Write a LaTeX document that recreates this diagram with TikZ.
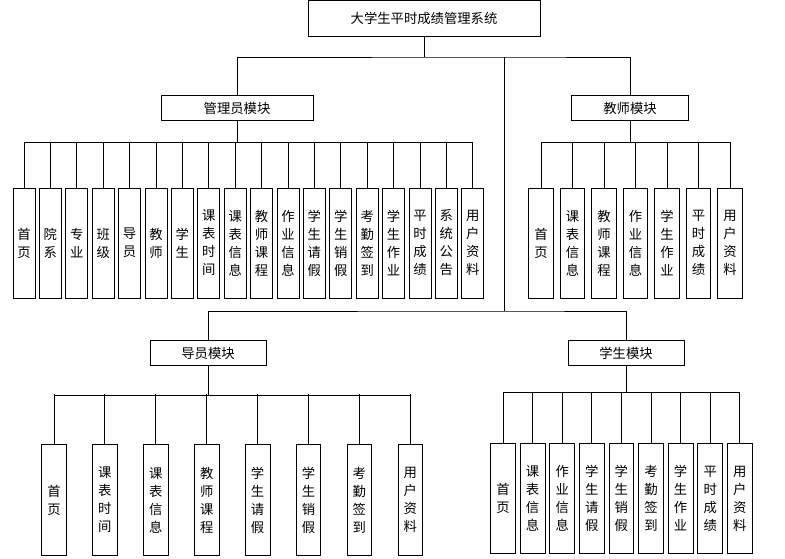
\documentclass[tikz,border=0pt]{standalone}
\usepackage{fontspec}
\newfontfamily\cjk{Noto Sans CJK SC}
\begin{document}
\begin{tikzpicture}[x=0.75pt,y=-0.75pt,
  box/.style={draw,line width=0.65pt,inner sep=0pt,font=\cjk\fontsize{10}{12}\selectfont},
  vbox/.style={draw,line width=0.65pt,inner sep=0pt,minimum width=16.5pt,minimum height=82.5pt,align=center,font=\cjk\fontsize{10}{13.5}\selectfont},
  ln/.style={line width=0.65pt}]
\useasboundingbox (0,0) rectangle (785,558);
\node[box,minimum width=174pt,minimum height=27pt] (root) at (424,18) {大学生平时成绩管理系统};
\node[box,minimum width=114pt,minimum height=19pt] (adm) at (237,108) {管理员模块};
\node[box,minimum width=88pt,minimum height=19pt] (tea) at (630,108) {教师模块};
\node[box,minimum width=87pt,minimum height=19pt] (gui) at (208,353) {导员模块};
\node[box,minimum width=87pt,minimum height=19pt] (stu) at (626,353) {学生模块};
\coordinate (j1) at (504,57);
\coordinate (j2) at (504,311);
\draw[ln] (root.south) -- (424,57);
\draw[ln] (adm.north) |- (j1) -| (tea.north);
\draw[ln] (j1) -- (j2);
\draw[ln] (gui.north) |- (j2) -| (stu.north);
% admin
\foreach[count=\i] \t in {首\\页,院\\系,专\\业,班\\级,导\\员,教\\师,学\\生,课\\表\\时\\间,课\\表\\信\\息,教\\师\\课\\程,作\\业\\信\\息,学\\生\\请\\假,学\\生\\销\\假,考\\勤\\签\\到,学\\生\\作\\业,平\\时\\成\\绩,系\\统\\公\\告,用\\户\\资\\料}{
  \node[vbox,minimum height=82.5pt] (a\i) at ({24+(\i-1)*26.4},243) {\t};
  \draw[ln] (a\i.north) -- ++(0,-46);
}
\draw[ln] (adm.south) -- (237,142);
\draw[ln] (24,142) -- (473,142);
% teacher
\foreach[count=\i] \t in {首\\页,课\\表\\信\\息,教\\师\\课\\程,作\\业\\信\\息,学\\生\\作\\业,平\\时\\成\\绩,用\\户\\资\\料}{
  \node[vbox,minimum width=18.5pt] (t\i) at ({541+(\i-1)*31.5},243) {\t};
  \draw[ln] (t\i.north) -- ++(0,-46);
}
\draw[ln] (tea.south) -- (630,142);
\draw[ln] (541,142) -- (730,142);
% guide
\foreach[count=\i] \t in {首\\页,课\\表\\时\\间,课\\表\\信\\息,教\\师\\课\\程,学\\生\\请\\假,学\\生\\销\\假,考\\勤\\签\\到,用\\户\\资\\料}{
  \node[vbox,minimum width=18.5pt,minimum height=83pt] (g\i) at ({54+(\i-1)*50.9},500) {\t};
  \draw[ln] (g\i.north) -- ++(0,-50);
}
\draw[ln] (gui.south) -- (208,395);
\draw[ln] (54,395) -- (410,395);
% student
\foreach[count=\i] \t in {首\\页,课\\表\\信\\息,作\\业\\信\\息,学\\生\\请\\假,学\\生\\销\\假,考\\勤\\签\\到,学\\生\\作\\业,平\\时\\成\\绩,用\\户\\资\\料}{
  \node[vbox,minimum width=18.5pt,minimum height=83pt] (s\i) at ({503+(\i-1)*29.6},498.5) {\t};
  \draw[ln] (s\i.north) -- ++(0,-51);
}
\draw[ln] (stu.south) -- (626,392);
\draw[ln] (503,392) -- (740,392);
\end{tikzpicture}
\end{document}
